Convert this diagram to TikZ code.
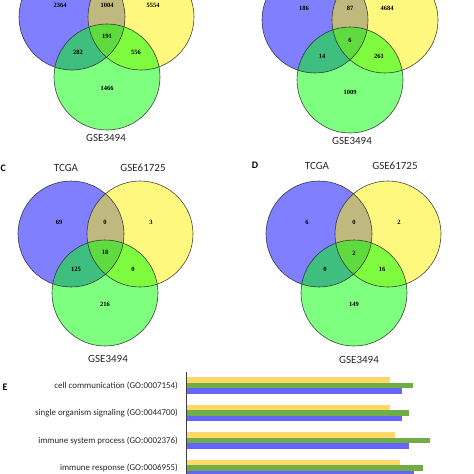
\documentclass[tikz,border=0pt]{standalone}
\usepackage{fontspec}
\setmainfont{Liberation Serif}
\newfontfamily\calfont{Carlito}
\definecolor{barY}{RGB}{255,217,102}
\definecolor{barG}{RGB}{112,173,71}
\definecolor{barB}{RGB}{102,102,255}
\definecolor{labgray}{RGB}{40,40,40}
\begin{document}
\begin{tikzpicture}[x=1pt,y=-1pt,
  num/.style={font=\fontsize{6.5}{7}\selectfont\bfseries, inner sep=0pt},
  setlab/.style={font=\calfont\fontsize{11}{12}\selectfont, text=labgray, inner sep=0pt},
  panel/.style={font=\calfont\fontsize{10}{11}\selectfont\bfseries, inner sep=0pt},
  golab/.style={font=\calfont\fontsize{8.9}{10}\selectfont, text=labgray, inner sep=0pt, anchor=east},
  vring/.style={draw=black!85, line width=0.6pt, draw opacity=0.85},
  bary/.style={fill=barY},
  barg/.style={fill=barG},
  barb/.style={fill=barB}]
\useasboundingbox (0,0) rectangle (474,474);
\clip (0,0) rectangle (474,474);
\fill[white] (0,0) rectangle (474,474);

\foreach \bx/\by/\yx/\yy/\gx/\gy in {72/17/141/17/107/77, 315/20/385/20/350/80, 71/234/140/234/105/293, 319/234/388/234/354/293}{
  \fill[blue, fill opacity=0.5] (\bx,\by) circle[radius=53];
  \fill[yellow, fill opacity=0.5] (\yx,\yy) circle[radius=53];
  \fill[green, fill opacity=0.5] (\gx,\gy) circle[radius=53];
  \draw[vring] (\bx,\by) circle[radius=53];
  \draw[vring] (\yx,\yy) circle[radius=53];
  \draw[vring] (\gx,\gy) circle[radius=53];
}

% Panel A numbers
\node[num] (a1) at (60,5) {2364};
\node[num] (a2) at (107,5) {1004};
\node[num] (a3) at (153,5) {5554};
\node[num] (a4) at (107,36) {191};
\node[num] (a5) at (78,52) {282};
\node[num] (a6) at (136,52) {556};
\node[num] (a7) at (107,88) {1466};
\node[setlab] (ag) at (106,138) {GSE3494};

% Panel B numbers
\node[num] (b1) at (304,8) {186};
\node[num] (b2) at (350,8) {87};
\node[num] (b3) at (387,8) {4684};
\node[num] (b4) at (350,40) {6};
\node[num] (b5) at (322,56) {14};
\node[num] (b6) at (379,56) {261};
\node[num] (b7) at (350,92) {1009};
\node[setlab] (bg) at (352,141) {GSE3494};

% Panel C
\node[panel, anchor=west] (cl) at (0.5,168) {C};
\node[setlab] (ct) at (66,168) {TCGA};
\node[setlab] (cs) at (143,168) {GSE61725};
\node[num] (c1) at (59,222) {69};
\node[num] (c2) at (105,222) {0};
\node[num] (c3) at (151,222) {3};
\node[num] (c4) at (105,252) {18};
\node[num] (c5) at (76,269) {125};
\node[num] (c6) at (133,269) {0};
\node[num] (c7) at (105,304) {216};
\node[setlab] (cg) at (108,359) {GSE3494};

% Panel D
\node[panel] (dl) at (255,165) {D};
\node[setlab] (dt) at (317,166) {TCGA};
\node[setlab] (ds) at (395,166) {GSE61725};
\node[num] (d1) at (307,222) {6};
\node[num] (d2) at (354,222) {0};
\node[num] (d3) at (399,222) {2};
\node[num] (d4) at (354,253) {2};
\node[num] (d5) at (325,269) {0};
\node[num] (d6) at (382,269) {16};
\node[num] (d7) at (354,304) {149};
\node[setlab] (dg) at (359,360) {GSE3494};

% Panel E
\node[panel] (el) at (5,387) {E};
\foreach \s/\ly/\lg/\lb [count=\i] in {377/390/413/402, 404.5/390/409/402, 432/395/430/409, 459.5/400/423/414}{
  \fill[bary] (186,\s) rectangle (\ly,\s+5.6);
  \fill[barg] (186,\s+5.6) rectangle (\lg,\s+11.2);
  \fill[barb] (186,\s+11.2) rectangle (\lb,\s+16.8);
}
\draw[black!75, line width=0.6pt] (186,372) -- (186,474);
\node[golab] (g1) at (178,386) {cell communication (GO:0007154)};
\node[golab] (g2) at (178,413) {single organism signaling (GO:0044700)};
\node[golab] (g3) at (178,441) {immune system process (GO:0002376)};
\node[golab] (g4) at (178,468) {immune response (GO:0006955)};
\end{tikzpicture}
\end{document}
